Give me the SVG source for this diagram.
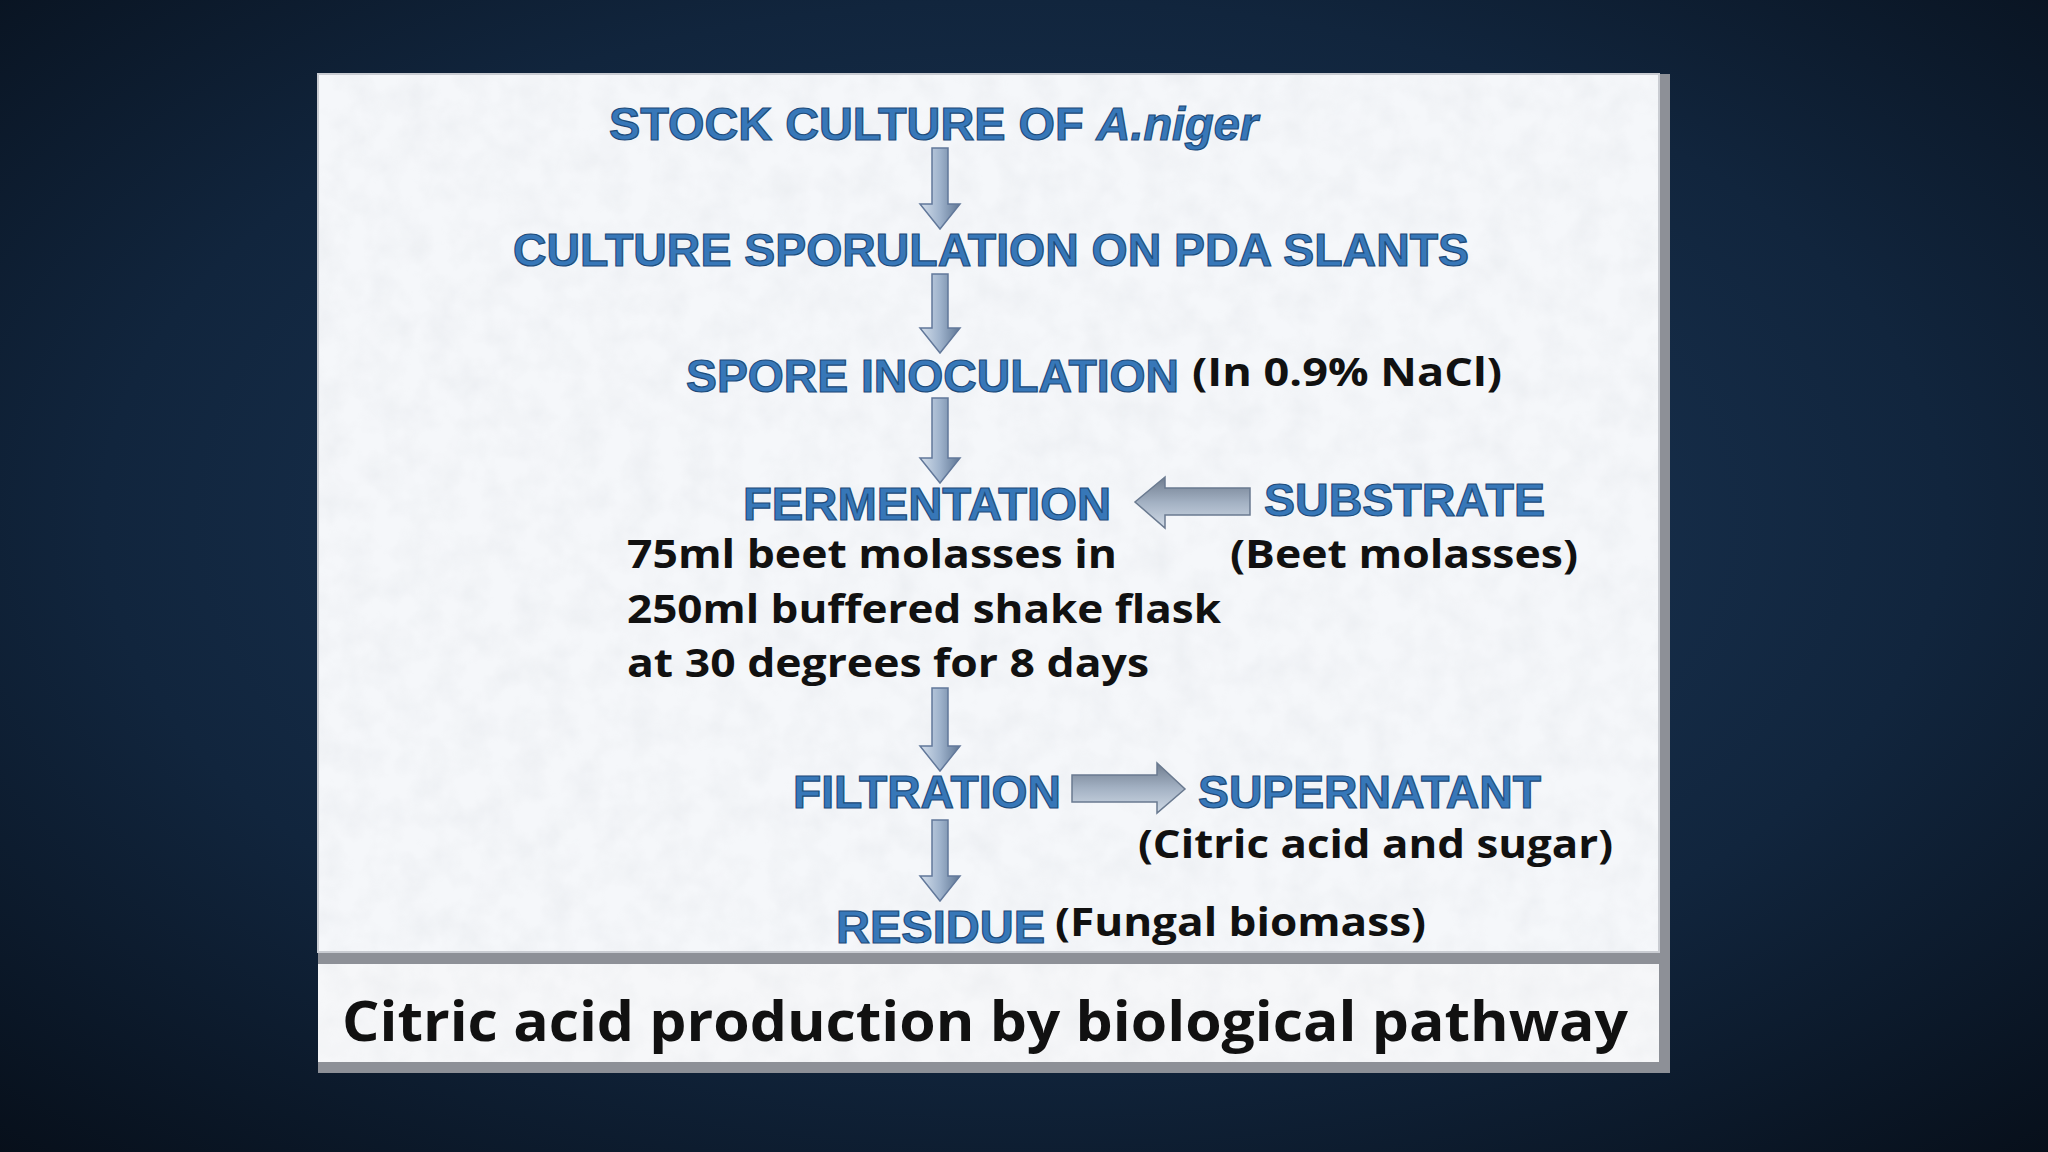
<svg xmlns="http://www.w3.org/2000/svg" width="2048" height="1152" viewBox="0 0 2048 1152">
<defs>
  <radialGradient id="bg" cx="50%" cy="45%" r="75%">
    <stop offset="0" stop-color="#1d3a5c"/>
    <stop offset="0.6" stop-color="#11253d"/>
    <stop offset="1" stop-color="#070f1a"/>
  </radialGradient>
  <linearGradient id="vArrow" x1="0" y1="0" x2="1" y2="0">
    <stop offset="0" stop-color="#d3deeb"/>
    <stop offset="0.5" stop-color="#9fb3cc"/>
    <stop offset="1" stop-color="#5f7694"/>
  </linearGradient>
  <linearGradient id="hArrow" x1="0" y1="0" x2="0" y2="1">
    <stop offset="0" stop-color="#6f7c8e"/>
    <stop offset="0.5" stop-color="#a3b1c3"/>
    <stop offset="1" stop-color="#d0dae6"/>
  </linearGradient>
  <filter id="tex" x="0" y="0" width="100%" height="100%">
    <feTurbulence type="fractalNoise" baseFrequency="0.035" numOctaves="3" seed="4" result="n"/>
    <feColorMatrix in="n" type="matrix" values="0 0 0 0 0.55  0 0 0 0 0.58  0 0 0 0 0.62  0 0 0 -1.6 1.05" result="c"/>
    <feComposite in="c" in2="SourceGraphic" operator="in"/>
  </filter>
  <style>
    .blue{font-family:"Liberation Sans Narrow","Liberation Sans",Arial,sans-serif;font-weight:bold;fill:#3777b8;stroke:#1d4b7a;stroke-width:1.2;}
    .blk{font-family:"Open Sans","Liberation Sans",Arial,sans-serif;font-weight:bold;fill:#111;}
    .va{fill:url(#vArrow);stroke:#62789a;stroke-width:1.5;}
    .ha{fill:url(#hArrow);stroke:#6a7a90;stroke-width:1.5;}
  </style>
</defs>
<rect x="0" y="0" width="2048" height="1152" fill="url(#bg)"/>

<!-- main panel -->
<g id="panel">
  <rect x="318" y="74" width="1352" height="890" fill="#8d9097"/>
  <rect x="318" y="74" width="1341" height="878" fill="#f5f7fa"/>
  <rect x="318" y="74" width="1341" height="878" fill="#fff" filter="url(#tex)" opacity="0.16"/>
  <rect x="318" y="74" width="1341" height="878" fill="none" stroke="#c9ccd2" stroke-width="2"/>
</g>
<g id="caption-box">
  <rect x="318" y="964" width="1352" height="109" fill="#8d9097"/>
  <rect x="318" y="964" width="1341" height="98" fill="#f6f7f9"/>
  <rect x="318" y="964" width="1341" height="98" fill="#fff" filter="url(#tex)" opacity="0.14"/>
  <text x="342" y="1041" class="blk" font-size="56" textLength="1286" lengthAdjust="spacingAndGlyphs">Citric acid production by biological pathway</text>
</g>

<g id="connectors">
  <path class="va" d="M932,148 L948,148 L948,204 L960,204 L940,229 L920,204 L932,204 Z"/>
  <path class="va" d="M932,274 L948,274 L948,328 L960,328 L940,353 L920,328 L932,328 Z"/>
  <path class="va" d="M932,398 L948,398 L948,458 L960,458 L940,483 L920,458 L932,458 Z"/>
  <path class="va" d="M932,688 L948,688 L948,746 L960,746 L940,771 L920,746 L932,746 Z"/>
  <path class="va" d="M932,820 L948,820 L948,876 L960,876 L940,901 L920,876 L932,876 Z"/>
  <path class="ha" d="M1250,488 L1250,515 L1165,515 L1165,528 L1135,502 L1165,477 L1165,488 Z"/>
  <path class="ha" d="M1072,775 L1072,802 L1157,802 L1157,813 L1185,789 L1157,763 L1157,775 Z"/>
</g>

<g id="stock-culture">
  <text x="609" y="140" class="blue" font-size="46" textLength="649" lengthAdjust="spacingAndGlyphs">STOCK CULTURE OF <tspan font-style="italic">A.niger</tspan></text>
</g>
<g id="sporulation">
  <text x="513" y="266" class="blue" font-size="46" textLength="956" lengthAdjust="spacingAndGlyphs">CULTURE SPORULATION ON PDA SLANTS</text>
</g>
<g id="inoculation">
  <text x="686" y="392" class="blue" font-size="46" textLength="493" lengthAdjust="spacingAndGlyphs">SPORE INOCULATION</text>
  <text x="1192" y="386" class="blk" font-size="40" textLength="310" lengthAdjust="spacingAndGlyphs">(In 0.9% NaCl)</text>
</g>
<g id="fermentation">
  <text x="743" y="520" class="blue" font-size="46" textLength="368" lengthAdjust="spacingAndGlyphs">FERMENTATION</text>
  <text x="627" y="568" class="blk" font-size="39" textLength="490" lengthAdjust="spacingAndGlyphs">75ml beet molasses in</text>
  <text x="627" y="623" class="blk" font-size="39" textLength="594" lengthAdjust="spacingAndGlyphs">250ml buffered shake flask</text>
  <text x="627" y="677" class="blk" font-size="39" textLength="522" lengthAdjust="spacingAndGlyphs">at 30 degrees for 8 days</text>
</g>
<g id="substrate">
  <text x="1264" y="516" class="blue" font-size="46" textLength="281" lengthAdjust="spacingAndGlyphs">SUBSTRATE</text>
  <text x="1230" y="568" class="blk" font-size="39" textLength="348" lengthAdjust="spacingAndGlyphs">(Beet molasses)</text>
</g>
<g id="filtration">
  <text x="793" y="808" class="blue" font-size="46" textLength="268" lengthAdjust="spacingAndGlyphs">FILTRATION</text>
</g>
<g id="supernatant">
  <text x="1198" y="808" class="blue" font-size="46" textLength="343" lengthAdjust="spacingAndGlyphs">SUPERNATANT</text>
  <text x="1138" y="858" class="blk" font-size="39" textLength="475" lengthAdjust="spacingAndGlyphs">(Citric acid and sugar)</text>
</g>
<g id="residue">
  <text x="836" y="943" class="blue" font-size="46" textLength="209" lengthAdjust="spacingAndGlyphs">RESIDUE</text>
  <text x="1055" y="936" class="blk" font-size="40" textLength="371" lengthAdjust="spacingAndGlyphs">(Fungal biomass)</text>
</g>
</svg>
